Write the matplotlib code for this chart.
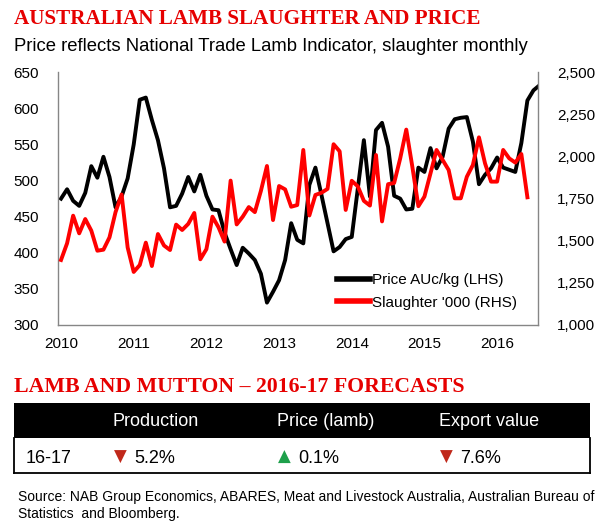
import numpy as np
import matplotlib.pyplot as plt
from matplotlib.lines import Line2D
from matplotlib.patches import Rectangle
from matplotlib.ticker import FuncFormatter

# prix de l'agneau (AUc/kg), mensuel depuis janvier 2010
price = [475, 488, 472, 465, 483, 520, 504, 533, 505, 463,
         478, 503, 550, 612, 615, 584, 556, 517, 463, 465,
         482, 505, 485, 508, 479, 460, 459, 428, 405, 383,
         407, 399, 390, 371, 331, 346, 362, 390, 441, 418,
         413, 494, 518, 480, 441, 402, 408, 419, 422, 489,
         556, 478, 570, 580, 547, 479, 475, 460, 461, 518,
         512, 545, 517, 533, 572, 585, 587, 588, 554, 495,
         508, 517, 532, 518, 515, 512, 552, 611, 625, 632]

# abattage mensuel ('000 tetes)
slaughter = [1386, 1485, 1649, 1544, 1629, 1560, 1441, 1447, 1520, 1670,
             1775, 1460, 1315, 1356, 1489, 1350, 1540, 1472, 1445, 1596,
             1564, 1600, 1665, 1390, 1450, 1643, 1580, 1495, 1857, 1597,
             1643, 1700, 1670, 1796, 1944, 1623, 1825, 1805, 1702, 1712,
             2039, 1650, 1772, 1785, 1808, 2073, 2031, 1683, 1856, 1823,
             1737, 1709, 2009, 1615, 1836, 1843, 1989, 2160, 1940, 1705,
             1762, 1900, 2039, 1980, 1920, 1752, 1752, 1880, 1950, 2114,
             1960, 1851, 1851, 2039, 1989, 1964, 2015, 1758]

years = ["2010", "2011", "2012", "2013", "2014", "2015", "2016"]

# tableau des previsions
table_cols = ["Production", "Price (lamb)", "Export value"]
table_row = "16-17"
table_vals = ["5.2%", "0.1%", "7.6%"]
table_up = [False, True, False]

W, H = 604, 528


def px(x, y):
    # pixels (depuis le haut) -> fraction de figure
    return x / W, 1 - y / H


plt.rcParams['font.family'] = ['Liberation Sans', 'DejaVu Sans']

fig = plt.figure(figsize=(W / 100, H / 100), dpi=100)

RED = '#FF0000'
TITLE_RED = '#E60000'
GREY = '#868686'

# titres
fig.text(*px(14, 24), "AUSTRALIAN LAMB SLAUGHTER AND PRICE", color=TITLE_RED,
         fontsize=15.2, fontweight='bold', family='Liberation Serif', va='baseline')
fig.text(*px(14, 51), "Price reflects National Trade Lamb Indicator, slaughter monthly",
         fontsize=13.3, va='baseline')

# graphique
ax = fig.add_axes([58.3 / W, 1 - 325 / H, 479.4 / W, 252.7 / H])
x_price = np.arange(len(price))
x_sl = np.arange(len(slaughter))
l1, = ax.plot(x_price, price, color='black', lw=2.8, solid_joinstyle='round',
              label="Price AUc/kg (LHS)")
ax.set_ylim(300, 650)
ax.set_yticks(np.arange(300, 651, 50))
ax.set_xlim(-0.45, 78.7)
ax.set_xticks(np.arange(0, 12 * len(years), 12))
ax.set_xticklabels(years)

ax2 = ax.twinx()
l2, = ax2.plot(x_sl, slaughter, color=RED, lw=2.8, solid_joinstyle='round',
               label="Slaughter '000 (RHS)")
ax2.set_ylim(1000, 2500)
ax2.set_yticks(np.arange(1000, 2501, 250))
ax2.yaxis.set_major_formatter(FuncFormatter(lambda v, p: f"{v:,.0f}"))

for a in (ax, ax2):
    for s in a.spines.values():
        s.set_visible(False)
    a.tick_params(length=0, labelsize=11, colors='black')
ax.spines['left'].set_visible(True)
ax.spines['bottom'].set_visible(True)
ax2.spines['right'].set_visible(True)
for s in (ax.spines['left'], ax.spines['bottom'], ax2.spines['right']):
    s.set_color(GREY)
    s.set_linewidth(1)
ax.tick_params(axis='y', pad=14)
ax.tick_params(axis='x', pad=9)
ax2.tick_params(axis='y', pad=14)

leg = ax2.legend(handles=[l1, l2], loc='lower left', bbox_to_anchor=(0.581, 0.06),
                 frameon=False, fontsize=11, handlelength=2.2, handletextpad=0.1,
                 labelspacing=0.55, borderpad=0, borderaxespad=0)
for h in leg.get_lines():
    h.set_linewidth(4)

# second titre
fig.text(*px(14, 392), "LAMB AND MUTTON \u2013 2016-17 FORECASTS", color=TITLE_RED,
         fontsize=15.7, fontweight='bold', family='Liberation Serif', va='baseline')

# tableau
x0, x1 = 14, 590
fig.patches.append(Rectangle(px(x0, 438), (x1 - x0) / W, 35 / H, transform=fig.transFigure,
                             facecolor='black', edgecolor='none'))
for xs, ys in [((x0, x0), (438, 473)), ((x1, x1), (438, 473)), ((x0, x1), (473, 473))]:
    fig.add_artist(Line2D([xs[0] / W, xs[1] / W], [1 - ys[0] / H, 1 - ys[1] / H],
                          transform=fig.transFigure, color='black', lw=1.3))

col_x = [113, 277, 439]
for cx, name, val, up in zip(col_x, table_cols, table_vals, table_up):
    fig.text(*px(cx, 426), name, color='white', fontsize=13, va='baseline')
    tri = "\u25B2" if up else "\u25BC"
    tcol = '#1EA04B' if up else '#C0281A'
    fig.text(*px(cx + 1, 462), tri, color=tcol, fontsize=12, va='baseline', family='DejaVu Sans')
    fig.text(*px(cx + 21, 463), val, fontsize=13, va='baseline')
fig.text(*px(26, 463), table_row, fontsize=13, va='baseline')

# source
fig.text(*px(18, 501), "Source: NAB Group Economics, ABARES, Meat and Livestock Australia, Australian Bureau of",
         fontsize=10, va='baseline')
fig.text(*px(18, 518), "Statistics  and Bloomberg.", fontsize=10, va='baseline')

fig.savefig("out.png", dpi=100)
